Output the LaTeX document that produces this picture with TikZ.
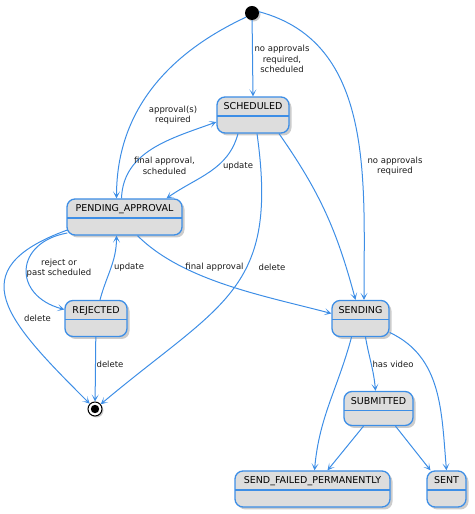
\documentclass[tikz,border=0pt]{standalone}
\usepackage{fontspec}
\setmainfont{DejaVu Sans}
\usepackage{xcolor}
\usepackage{tikz}
\usetikzlibrary{arrows.meta, shadows}
\definecolor{stblue}{HTML}{3D8EE6}
\definecolor{stfill}{HTML}{DDDDDD}
\definecolor{sttext}{HTML}{1A1A1A}

\begin{document}
\begin{tikzpicture}[x=1pt, y=1pt,
        stbox/.style={rounded corners=8pt, fill=stfill, draw=stblue, line width=1.3pt, text=black,
          font=\fontsize{9.5}{11}\selectfont, inner xsep=2pt, inner ysep=0pt,
          text height=13pt, text depth=23pt,
          drop shadow={shadow xshift=2.5pt, shadow yshift=-2.5pt, opacity=0.4},
          path picture={\draw[stblue, line width=1.2pt]
            ([yshift=-19pt]path picture bounding box.north west) -- ([yshift=-19pt]path picture bounding box.north east);}},
        initdot/.style={circle, fill=black, minimum size=14pt, inner sep=0pt,
          drop shadow={shadow xshift=1.5pt, shadow yshift=-1.5pt, opacity=0.4}},
        enddot/.style={circle, draw=black, line width=1pt, fill=white, minimum size=14pt, inner sep=0pt,
          drop shadow={shadow xshift=1.5pt, shadow yshift=-1.5pt, opacity=0.4},
          path picture={\fill[black] (path picture bounding box.center) circle (4.2pt);}},
        lbl/.style={font=\fontsize{8.5}{10.5}\selectfont, text=sttext, align=center, inner sep=0pt},
        arr/.style={-{Stealth[length=7pt,width=7pt,inset=4pt]}, draw=stblue, line width=1pt}]
        \useasboundingbox (0,0) rectangle (474,514);
        % states
        \node[initdot] (init) at (252,501) {};
        \node[stbox, minimum width=72pt] (sched) at (253,399) {SCHEDULED};
        \node[stbox, minimum width=115pt] (pend) at (124.5,297) {PENDING\_APPROVAL};
        \node[stbox, minimum width=62pt] (rej) at (96,195.5) {REJECTED};
        \node[stbox, minimum width=57pt] (sending) at (360.5,195.5) {SENDING};
        \node[stbox, minimum width=69pt, text depth=21pt] (subm) at (378.5,105.5) {SUBMITTED};
        \node[stbox, minimum width=155pt] (failed) at (312.5,25) {SEND\_FAILED\_PERMANENTLY};
        \node[stbox, minimum width=39pt] (sent) at (446.5,25) {SENT};
        \node[enddot] (final) at (95,105) {};
        % transitions
        \draw[arr] (init) -- (sched.north);
        \draw[arr] (init.215) to[out=205, in=90] ([xshift=-8pt]pend.north);
        \draw[arr] (init.10) to[out=-15, in=90] ([xshift=3.5pt]sending.north);
        \draw[arr] ([xshift=-3pt]pend.north) to[out=88, in=200] ([yshift=-7pt]sched.west);
        \draw[arr] ([xshift=-15pt]sched.south) to[out=-105, in=35] ([xshift=42pt]pend.north);
        \draw[arr] ([xshift=4pt]sched.south) to[out=-82, in=40, looseness=1.3] (final);
        \draw[arr] ([xshift=26pt]sched.south) to[out=-55, in=105] ([xshift=-5pt]sending.north);
        \draw[arr] ([xshift=1pt, yshift=-16pt]pend.west) to[out=190, in=165, looseness=1.8] ([yshift=9pt]rej.west);
        \draw[arr] ([xshift=1pt, yshift=-13pt]pend.west) to[out=200, in=135, looseness=1.7] (final);
        \draw[arr] ([xshift=4pt]rej.north) to[out=75, in=-90] ([xshift=-8pt]pend.south);
        \draw[arr] ([xshift=13pt]pend.south) to[out=-45, in=165, looseness=0.8] ([yshift=5pt]sending.west);
        \draw[arr] (rej) -- (final);
        \draw[arr] ([xshift=5pt]sending.south) to[out=-80, in=95] ([xshift=-3pt]subm.north);
        \draw[arr] ([xshift=-9pt]sending.south) to[out=-105, in=85] ([xshift=2pt]failed.north);
        \draw[arr] ([yshift=-14pt]sending.east) to[out=-25, in=95] (sent.north);
        \draw[arr] ([xshift=-15pt]subm.south) -- ([xshift=15pt]failed.north);
        \draw[arr] ([xshift=17pt]subm.south) -- ([xshift=-16pt]sent.north);
        % labels
        \node[lbl] (lnoapprsched) at (282,455) {no approvals\\required,\\scheduled};
        \node[lbl] (lapprreq) at (173,399) {approval(s)\\required};
        \node[lbl] (lnoappr) at (395,348) {no approvals\\required};
        \node[lbl] (lfinalsched) at (164.5,348) {final approval,\\scheduled};
        \node[lbl] (lupdsched) at (238,348) {update};
        \node[lbl] (lreject) at (59,246) {reject or\\past scheduled};
        \node[lbl] (lupdrej) at (129,247) {update};
        \node[lbl] (lfinal) at (214.5,247) {final approval};
        \node[lbl] (ldelsched) at (272,247) {delete};
        \node[lbl] (ldelpend) at (37.5,195.5) {delete};
        \node[lbl] (ldelrej) at (110,150) {delete};
        \node[lbl] (lvideo) at (393,150) {has video};
      \end{tikzpicture}
\end{document}
